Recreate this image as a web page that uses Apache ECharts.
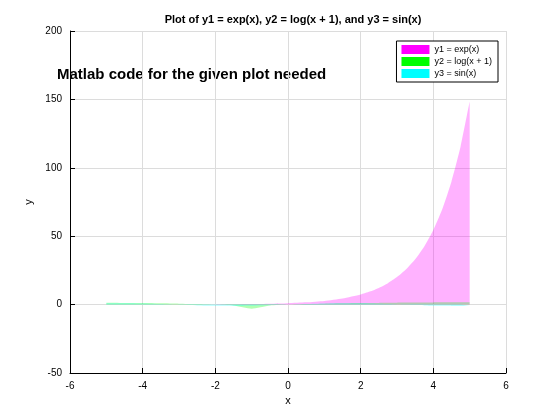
<!DOCTYPE html>
<html>
<head>
<meta charset="utf-8">
<script src="https://cdn.jsdelivr.net/npm/echarts@6/dist/echarts.min.js"></script>
<style>html,body{margin:0;padding:0;background:#fff}#chart{width:560px;height:420px}</style>
</head>
<body>
<div id="chart"></div>
<script>
var xs = [-5, -4.5, -4, -3.5, -3, -2.5, -2, -1.5, -1, -0.5, 0, 0.5, 1, 1.5, 2,
    2.25, 2.5, 2.75, 3, 3.25, 3.5, 3.75, 4, 4.25, 4.5, 4.75, 5];
var y1 = [0.007, 0.011, 0.018, 0.03, 0.05, 0.08, 0.14, 0.22, 0.37, 0.61, 1, 1.65, 2.72, 4.48, 7.39,
    9.49, 12.18, 15.64, 20.09, 25.79, 33.12, 42.52, 54.6, 70.11, 90.02, 115.58, 148.41];
var y2 = [1.39, 1.25, 1.1, 0.92, 0.69, 0.41, 0, -0.69, -3, -0.69, 0, 0.41, 0.69, 0.92, 1.1,
    1.18, 1.25, 1.32, 1.39, 1.45, 1.5, 1.56, 1.61, 1.66, 1.7, 1.75, 1.79];
var y3 = [0.96, 0.98, 0.76, 0.35, -0.14, -0.6, -0.91, -1, -0.84, -0.48, 0, 0.48, 0.84, 1, 0.91,
    0.78, 0.6, 0.38, 0.14, -0.11, -0.35, -0.57, -0.76, -0.89, -0.98, -1, -0.96];
var names = ['y1 = exp(x)', 'y2 = log(x + 1)', 'y3 = sin(x)'];
var colors = ['#ff00ff', '#00ff00', '#00ffff'];

function pairs(ys) {
    return xs.map(function (x, i) { return [x, ys[i]]; });
}

var chart = echarts.init(document.getElementById('chart'));
var font = 'Liberation Sans, Arial, sans-serif';
var axisCommon = {
    axisLine: {show: true, onZero: false, lineStyle: {color: '#000'}},
    axisTick: {inside: true, lineStyle: {color: '#000'}},
    axisLabel: {color: '#000', fontSize: 10, fontFamily: font},
    splitLine: {show: true, lineStyle: {color: '#dcdcdc'}},
    nameTextStyle: {color: '#000', fontSize: 11, fontFamily: font}
};

var option = {
    animation: false,
    title: {
        text: 'Plot of y1 = exp(x), y2 = log(x + 1), and y3 = sin(x)',
        left: 288, top: 9, textAlign: 'center',
        textStyle: {fontSize: 11, fontWeight: 'bold', fontFamily: font, color: '#000'}
    },
    grid: {left: 70, right: 54, top: 31, bottom: 47},
    legend: {
        orient: 'vertical', right: 62, top: 41,
        backgroundColor: '#fff', borderColor: '#000', borderWidth: 1, borderRadius: 0,
        padding: [4, 6, 4, 5], itemGap: 3, itemWidth: 28, itemHeight: 9,
        textStyle: {fontSize: 9, fontFamily: font, color: '#000'},
        data: names.map(function (n, i) {
            return {name: n, icon: 'rect', itemStyle: {color: colors[i], opacity: 1}};
        })
    },
    xAxis: Object.assign({type: 'value', min: -6, max: 6, interval: 2, name: 'x',
        nameLocation: 'middle', nameGap: 16}, axisCommon),
    yAxis: Object.assign({type: 'value', min: -50, max: 200, interval: 50, name: 'y',
        nameLocation: 'middle', nameGap: 28}, axisCommon),
    graphic: [{
        type: 'text', left: 57, top: 67,
        style: {text: 'Matlab code for the given plot needed', fontSize: 15,
            fontWeight: 'bold', fontFamily: font, fill: '#000'}
    }],
    series: [y1, y2, y3].map(function (ys, i) {
        return {
            name: names[i], type: 'line', data: pairs(ys),
            showSymbol: false, smooth: 0.2,
            lineStyle: {width: 0, color: colors[i]},
            itemStyle: {color: colors[i]},
            areaStyle: {color: colors[i], opacity: 0.3}
        };
    })
};
chart.setOption(option);
</script>
</body>
</html>
